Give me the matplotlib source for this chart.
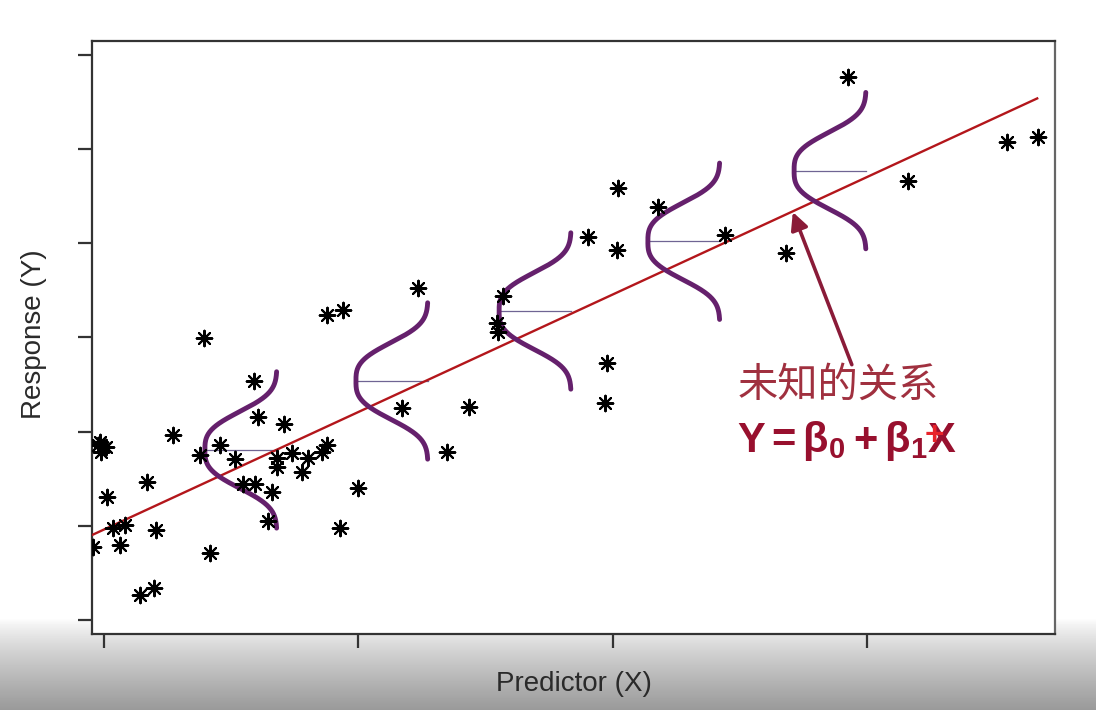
import numpy as np
import matplotlib
matplotlib.use("Agg")
import matplotlib.pyplot as plt

plt.rcParams['font.family'] = ['Liberation Sans', 'Noto Sans CJK SC', 'DejaVu Sans']
plt.rcParams['mathtext.fontset'] = 'custom'
plt.rcParams['mathtext.rm'] = 'Liberation Sans'
plt.rcParams['mathtext.it'] = 'Liberation Sans'
plt.rcParams['mathtext.bf'] = 'Liberation Sans:bold'

# ---- data ----
pts_x = [-0.016, 0.008, -0.012, -0.024, 0.169, 0.012, 0.035, 0.083, 0.063, 0.204,
         0.417, 0.142, 0.197, 0.271, 0.393, 0.590, 0.606, 0.708, 0.456, 0.378,
         0.515, 0.547, 0.594, 0.661, 0.645, 0.680, 0.680, 0.739, 0.802, 0.779,
         0.857, 0.877, 0.877, 0.940, 0.999, 0.928, 1.235, 1.172, 1.349, 1.435,
         1.569, 1.545, 1.549, 1.903, 2.021, 2.017, 1.978, 1.970, 2.179, 2.442,
         2.682, 2.926, 3.162, 3.551, 3.673, -0.043]
pts_y = [1.89, 1.84, 1.78, 1.86, 1.46, 1.31, 0.98, 1.01, 0.80, 0.96,
         0.71, 0.27, 0.34, 1.96, 2.99, 2.54, 2.15, 2.08, 1.86, 1.75,
         1.71, 1.44, 1.44, 1.36, 1.05, 1.72, 1.62, 1.77, 1.72, 1.57,
         1.78, 1.86, 3.24, 3.29, 1.40, 0.98, 3.52, 2.25, 1.78, 2.26,
         3.44, 3.15, 3.06, 4.07, 4.59, 3.93, 2.73, 2.30, 4.38, 4.09,
         3.90, 5.76, 4.66, 5.07, 5.13, 0.77]

beta0 = 0.96
beta1 = 1.247
line_x = [-0.047, 3.67]

curve_x0 = [0.680, 1.274, 1.837, 2.422, 2.997]     # baseline of each sideways density
curve_mu = [1.805, 2.537, 3.28, 4.02, 4.77]        # centre of each density
curve_height = 0.283
curve_scale = 0.467
curve_power = 3.0
curve_span = 0.83

x_ticks = [0, 1, 2, 3]
y_ticks = [0, 1, 2, 3, 4, 5, 6]

label_cn = "未知的关系"
label_eq = r"$\mathbf{Y = \beta_0 + \beta_1 X}$"

# ---- figure ----
fig = plt.figure(figsize=(10.96, 7.10), dpi=100)

# video-like grey gradient band at the bottom
bg = fig.add_axes([0, 0, 1, 1], zorder=-5)
rows = np.ones((710, 1))
yy = np.arange(710)
t = np.clip((yy - 618) / (710 - 618), 0, 1)
rows[:, 0] = 1.0 - 0.40 * t ** 0.8
bg.imshow(rows, cmap='gray', vmin=0, vmax=1, aspect='auto', extent=[0, 1, 0, 1])
bg.axis('off')

ax = fig.add_axes([92 / 1096, 1 - 634 / 710, (1055 - 92) / 1096, (634 - 41) / 710])
ax.set_facecolor('white')
ax.set_xlim(-0.047, 3.740)
ax.set_ylim(-0.149, 6.146)

# regression line
lx = np.array(line_x)
ax.plot(lx, beta0 + beta1 * lx, color='#b3161b', lw=1.7, zorder=3)

# sideways density curves
for x0, mu in zip(curve_x0, curve_mu):
    yv = np.linspace(mu - curve_span, mu + curve_span, 300)
    xv = x0 - curve_height * np.exp(-(np.abs(yv - mu) / curve_scale) ** curve_power)
    ax.plot(xv, yv, color='#65206c', lw=3.5, solid_capstyle='round', zorder=4)
    ax.plot([x0 - curve_height, x0], [mu, mu], color='#6f6493', lw=0.9, zorder=2)

# points
ax.scatter(pts_x, pts_y, marker=(8, 2, 0), s=125, color='black',
           linewidths=1.5, zorder=5, clip_on=True)

# annotation
ax.annotate('', xy=(2.709, 4.33), xytext=(2.941, 2.71),
            arrowprops=dict(arrowstyle='-|>', color='#8a1b38', lw=2.6,
                            mutation_scale=26, shrinkA=0, shrinkB=0), zorder=6)
ax.text(2.49, 2.49, label_cn, color='#a0303f', fontsize=29,
        family=['Noto Sans CJK SC', 'DejaVu Sans'], va='center', ha='left')
ax.text(2.49, 1.90, label_eq, color='#98102e', fontsize=30, va='center', ha='left')
ax.text(3.265, 1.95, '+', color='#e8232a', fontsize=24, fontweight='bold',
        va='center', ha='center', zorder=7)

# axes styling
ax.set_xticks(x_ticks)
ax.set_yticks(y_ticks)
ax.set_xticklabels([])
ax.set_yticklabels([])
ax.tick_params(axis='both', direction='out', length=10, width=1.6, color='#333333')
for s in ax.spines.values():
    s.set_color('#333333')
    s.set_linewidth(1.6)
ax.spines['right'].set_color('#666666')

ax.set_xlabel('Predictor (X)', fontsize=20, color='#2a2a2a')
ax.set_ylabel('Response (Y)', fontsize=20, color='#2a2a2a')
ax.xaxis.set_label_coords(0.5, -0.063)
ax.yaxis.set_label_coords(-0.047, 0.505)

fig.savefig('out.png', dpi=100)
